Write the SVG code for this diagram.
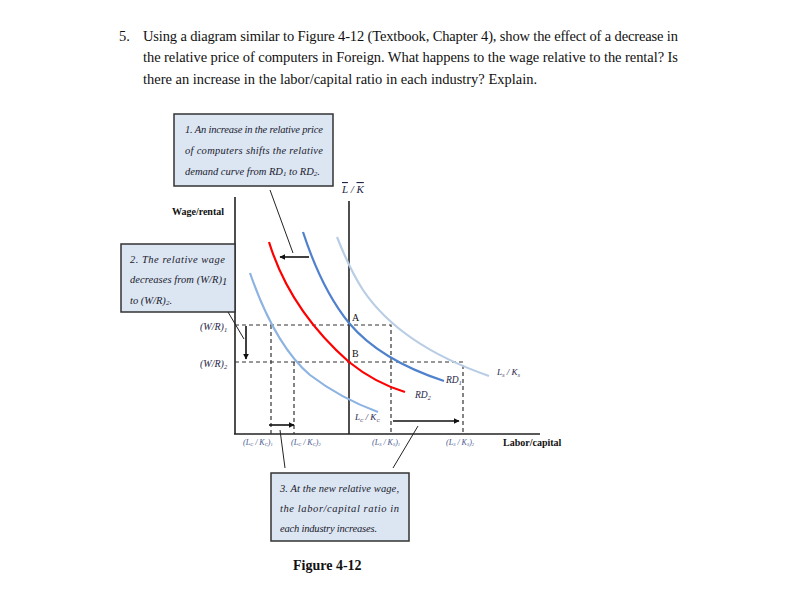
<svg xmlns="http://www.w3.org/2000/svg" width="798" height="590" viewBox="0 0 798 590">
<style>
.ser{font-family:"Liberation Serif","Times New Roman",serif;fill:#111}
.bd{font-weight:bold}
.box{fill:#dce6f2;stroke:#333;stroke-width:1.5}
.bt{font-family:"Liberation Serif","Times New Roman",serif;font-style:italic;font-size:10.5px;fill:#1a1a2e}
.lab{font-family:"Liberation Serif","Times New Roman",serif;font-style:italic;fill:#1f2547}
.tick{font-family:"Liberation Serif","Times New Roman",serif;font-style:italic;font-size:8px;fill:#4a5a8f}
.ax{stroke:#222;stroke-width:1.6;fill:none}
.dash{stroke:#333;stroke-width:1.2;stroke-dasharray:4,3;fill:none}
.thin{stroke:#222;stroke-width:1;fill:none}
.arr{stroke:#111;stroke-width:1.6;fill:none;marker-end:url(#ah)}
.cv{fill:none;stroke-width:2.2}
</style>
<defs>
<marker id="ah" viewBox="0 0 10 10" refX="9" refY="5" markerWidth="6" markerHeight="6" orient="auto" markerUnits="userSpaceOnUse">
<path d="M0,0 L10,5 L0,10 z" fill="#111"/>
</marker>
</defs>
<rect width="798" height="590" fill="#fff"/>

<g id="question">
<text class="ser" x="119" y="41" font-size="14.5">5.</text>
<text class="ser" x="143" y="41" font-size="14.5" textLength="535" lengthAdjust="spacing">Using a diagram similar to Figure 4-12 (Textbook, Chapter 4), show the effect of a decrease in</text>
<text class="ser" x="143" y="62" font-size="14.5" textLength="535" lengthAdjust="spacing">the relative price of computers in Foreign. What happens to the wage relative to the rental? Is</text>
<text class="ser" x="143" y="84" font-size="14.5" textLength="394" lengthAdjust="spacing">there an increase in the labor/capital ratio in each industry? Explain.</text>
</g>

<g id="axes">
<line class="ax" x1="235" y1="197" x2="235" y2="434"/>
<line class="ax" x1="234" y1="434" x2="540" y2="434"/>
<line class="ax" x1="349" y1="201" x2="349" y2="434"/>
<text class="ser bd" x="172" y="215" font-size="10">Wage/rental</text>
<text class="ser bd" x="503" y="446" font-size="10">Labor/capital</text>
<text class="lab" x="342" y="193" font-size="11"><tspan style="text-decoration:overline">L</tspan> / <tspan style="text-decoration:overline">K</tspan></text>
</g>

<g id="dashed">
<path class="dash" d="M235,325 H391 V434"/>
<path class="dash" d="M235,362 H463 V434"/>
<path class="dash" d="M271,325 V434"/>
<path class="dash" d="M294,362 V434"/>
</g>

<g id="curves">
<path id="curve-ls" class="cv" stroke="#b9cde5" d="M337,237 Q350,270 363,290 Q400,345 489,376"/>
<path id="curve-rd1" class="cv" stroke="#4f81cd" d="M303,232 Q322,290 349,323 Q380,360 444,381"/>
<path id="curve-rd2" class="cv" stroke="#ff0000" d="M269,242 Q290,310 349,362 Q375,383 405,392"/>
<path id="curve-lc" class="cv" stroke="#8db3e2" d="M250,273 Q275,345 310,375 Q340,398 378,412"/>
</g>

<g id="labels">
<text class="ser" x="352" y="321" font-size="10">A</text>
<text class="ser" x="352" y="357" font-size="10">B</text>
<text class="lab" x="200" y="330" font-size="10">(W/R)<tspan font-size="6.5" dy="2">1</tspan></text>
<text class="lab" x="200" y="367" font-size="10">(W/R)<tspan font-size="6.5" dy="2">2</tspan></text>
<text class="lab" x="446" y="383" font-size="9.5">RD<tspan font-size="6" dy="2">1</tspan></text>
<text class="lab" x="415" y="398" font-size="9.5">RD<tspan font-size="6" dy="2">2</tspan></text>
<text class="lab" x="497" y="375" font-size="9">L<tspan font-size="5" dy="2">S</tspan><tspan dy="-2"> / K</tspan><tspan font-size="5" dy="2">S</tspan></text>
<text class="lab" x="355" y="420" font-size="9">L<tspan font-size="5" dy="2">C</tspan><tspan dy="-2"> / K</tspan><tspan font-size="5" dy="2">C</tspan></text>
<text class="tick" x="243" y="445">(L<tspan font-size="4.5" dy="1">C</tspan><tspan dy="-1"> / K</tspan><tspan font-size="4.5" dy="1">C</tspan><tspan dy="-1">)</tspan><tspan font-size="4.5" dy="1">1</tspan></text>
<text class="tick" x="291" y="445">(L<tspan font-size="4.5" dy="1">C</tspan><tspan dy="-1"> / K</tspan><tspan font-size="4.5" dy="1">C</tspan><tspan dy="-1">)</tspan><tspan font-size="4.5" dy="1">2</tspan></text>
<text class="tick" x="372" y="445">(L<tspan font-size="4.5" dy="1">S</tspan><tspan dy="-1"> / K</tspan><tspan font-size="4.5" dy="1">S</tspan><tspan dy="-1">)</tspan><tspan font-size="4.5" dy="1">1</tspan></text>
<text class="tick" x="446" y="445">(L<tspan font-size="4.5" dy="1">S</tspan><tspan dy="-1"> / K</tspan><tspan font-size="4.5" dy="1">S</tspan><tspan dy="-1">)</tspan><tspan font-size="4.5" dy="1">2</tspan></text>
</g>

<g id="connectors">
<line class="thin" x1="270" y1="190" x2="293" y2="253"/>
<line class="arr" x1="309" y1="257" x2="280" y2="257"/>
<line class="thin" x1="228" y1="312" x2="244" y2="339"/>
<line class="arr" x1="246" y1="326" x2="246" y2="359"/>
<line class="arr" x1="269" y1="425" x2="294" y2="425"/>
<line class="arr" x1="393" y1="421" x2="459" y2="421"/>
<line class="thin" x1="280" y1="430" x2="285" y2="468"/>
<line class="thin" x1="418" y1="426" x2="393" y2="468"/>
</g>

<g id="box1">
<rect class="box" x="174" y="114" width="159" height="72"/>
<text class="bt" x="185" y="133" textLength="138" lengthAdjust="spacing">1. An increase in the relative price</text>
<text class="bt" x="185" y="154" textLength="138" lengthAdjust="spacing">of computers shifts the relative</text>
<text class="bt" x="185" y="175">demand curve from RD<tspan font-size="7" dy="1">1</tspan><tspan dy="-1"> to RD</tspan><tspan font-size="7" dy="1">2</tspan><tspan dy="-1">.</tspan></text>
</g>

<g id="box2">
<rect class="box" x="121" y="244" width="114" height="68"/>
<text class="bt" x="130" y="263" textLength="95" lengthAdjust="spacing">2. The relative wage</text>
<text class="bt" x="130" y="283" textLength="92" lengthAdjust="spacing">decreases from (W/R)</text>
<text class="bt" x="222" y="285" font-size="7">1</text>
<text class="bt" x="130" y="304">to (W/R)<tspan font-size="7" dy="1">2</tspan><tspan dy="-1">.</tspan></text>
</g>

<g id="box3">
<rect class="box" x="271" y="473" width="138" height="68"/>
<text class="bt" x="280" y="492" textLength="119" lengthAdjust="spacing">3. At the new relative wage,</text>
<text class="bt" x="280" y="512" textLength="119" lengthAdjust="spacing">the labor/capital ratio in</text>
<text class="bt" x="280" y="532" textLength="97" lengthAdjust="spacing">each industry increases.</text>
</g>

<g id="caption">
<text class="ser bd" x="293" y="570" font-size="14">Figure 4-12</text>
</g>
</svg>
